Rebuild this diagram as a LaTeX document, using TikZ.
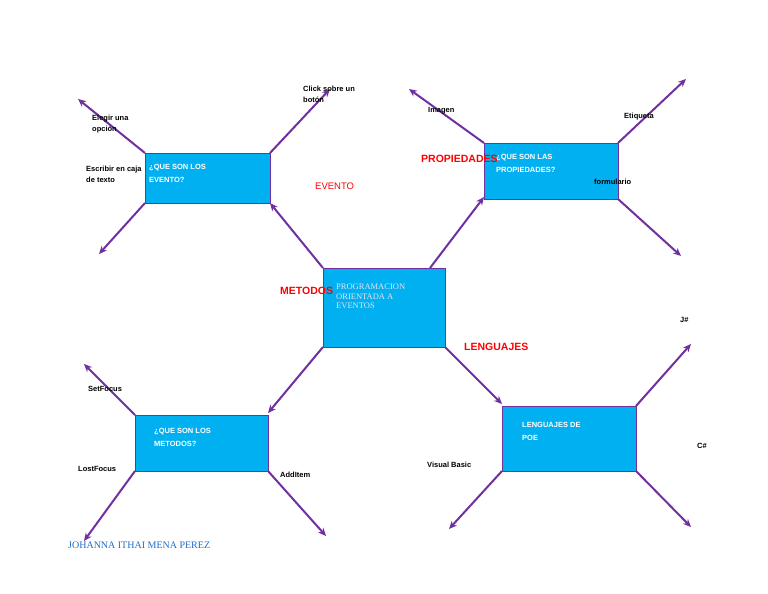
\documentclass[tikz,border=0pt]{standalone}
\usepackage{fontspec}
\setmainfont{Liberation Sans}
\newfontfamily\serifa{Liberation Serif}
\usetikzlibrary{arrows.meta}
\definecolor{boxc}{RGB}{0,176,240}
\definecolor{arr}{RGB}{112,48,160}
\definecolor{lnk}{RGB}{30,110,200}
\begin{document}
\begin{tikzpicture}[x=1pt,y=-1pt,
 box/.style={draw=arr,fill=boxc,line width=0.8pt},
 ar/.style={draw=arr,line width=2pt,-{Stealth[length=8pt,width=7pt]}},
 lab/.style={font=\bfseries\fontsize{7.5}{11}\selectfont,text=black,align=left,anchor=north west,inner sep=0pt},
 wl/.style={font=\bfseries\fontsize{7.5}{13}\selectfont,text=white,align=left,anchor=north west,inner sep=0pt},
 red/.style={font=\fontsize{9.5}{11}\selectfont,text=red,anchor=north west,inner sep=0pt}]
\useasboundingbox (0,0) rectangle (768,594);
\fill[white] (0,0) rectangle (768,594);
% boxes
\draw[box] (145,153) rectangle (270,203);
\coordinate (e1) at (145,153); \coordinate (e2) at (270,153); \coordinate (e3) at (145,203); \coordinate (e4) at (270,203);
\draw[box] (323,268) rectangle (445,347);
\coordinate (c1) at (323,268); \coordinate (c2) at (430,268); \coordinate (c3) at (323,347); \coordinate (c4) at (445,347);
\draw[box] (484,143) rectangle (618,199);
\coordinate (p1) at (484,143); \coordinate (p2) at (618,143); \coordinate (p3) at (484,197); \coordinate (p4) at (618,199);
\draw[box] (135,415) rectangle (268,471);
\coordinate (m1) at (135,415); \coordinate (m2) at (268,413); \coordinate (m3) at (135,471); \coordinate (m4) at (268,471);
\draw[box] (502,406) rectangle (636,471);
\coordinate (l1) at (502,404); \coordinate (l2) at (636,406); \coordinate (l3) at (502,471); \coordinate (l4) at (636,471);
% free ends
\coordinate (a1) at (78,99); \coordinate (a2) at (330,89); \coordinate (a3) at (99,254);
\coordinate (b1) at (409,89); \coordinate (b2) at (686,79); \coordinate (b3) at (681,256);
\coordinate (d1) at (84,364); \coordinate (d2) at (84,541); \coordinate (d3) at (326,536);
\coordinate (f1) at (691,344); \coordinate (f2) at (449,529); \coordinate (f3) at (691,527);
% arrows
\draw[ar] (c1) -- (e4); \draw[ar] (c2) -- (p3); \draw[ar] (c3) -- (m2); \draw[ar] (c4) -- (l1);
\draw[ar] (e1) -- (a1); \draw[ar] (e2) -- (a2); \draw[ar] (e3) -- (a3);
\draw[ar] (p1) -- (b1); \draw[ar] (p2) -- (b2); \draw[ar] (p4) -- (b3);
\draw[ar] (m1) -- (d1); \draw[ar] (m3) -- (d2); \draw[ar] (m4) -- (d3);
\draw[ar] (l2) -- (f1); \draw[ar] (l3) -- (f2); \draw[ar] (l4) -- (f3);
% box texts
\node[wl] (te) at (149,164) {¿QUE SON LOS\\EVENTO?};
\node[wl] (tp) at (496,154) {¿QUE SON LAS\\PROPIEDADES?};
\node[wl] (tm) at (154,428) {¿QUE SON LOS\\METODOS?};
\node[wl] (tl) at (522,422) {LENGUAJES DE\\POE};
\node[font=\serifa\fontsize{8.5}{9.5}\selectfont,text=white!85!arr,align=left,anchor=north west,inner sep=0pt] (tc) at (336,284) {PROGRAMACION\\ORIENTADA A\\EVENTOS};
% red labels
\node[red] (r1) at (315,183) {EVENTO};
\node[red,font=\fontsize{10.5}{12}\selectfont\bfseries] (r2) at (421,155) {PROPIEDADES};
\node[red,font=\fontsize{10.5}{12}\selectfont\bfseries] (r3) at (280,287) {METODOS};
\node[red,font=\fontsize{10.5}{12}\selectfont\bfseries] (r4) at (464,343) {LENGUAJES};
% black labels
\node[lab] (k1) at (92,115) {Elegir una\\opción};
\node[lab] (k2) at (303,86) {Click sobre un\\botón};
\node[lab] (k3) at (86,166) {Escribir en caja\\de texto};
\node[lab] (k4) at (428,107) {Imagen};
\node[lab] (k5) at (624,113) {Etiqueta};
\node[lab] (k6) at (594,179) {formulario};
\node[lab] (k7) at (680,317) {J\#};
\node[lab] (k8) at (697,443) {C\#};
\node[lab] (k9) at (427,462) {Visual Basic};
\node[lab] (k10) at (88,386) {SetFocus};
\node[lab] (k11) at (78,466) {LostFocus};
\node[lab] (k12) at (280,472) {AddItem};
\node[font=\serifa\fontsize{10}{12}\selectfont,text=lnk,anchor=north west,inner sep=0pt] (n) at (68,542) {JOHANNA ITHAI MENA PEREZ};
\end{tikzpicture}
\end{document}
